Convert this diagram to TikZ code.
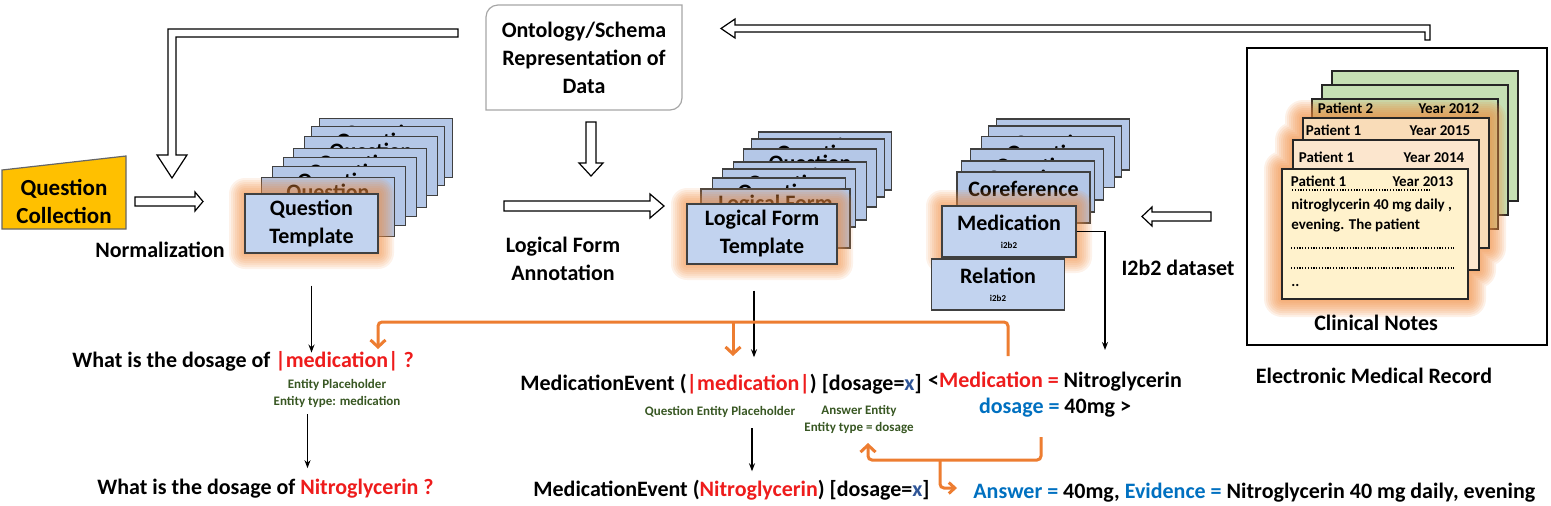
\documentclass[tikz,border=0pt]{standalone}
\usepackage{fontspec}
\setmainfont{Carlito}
\usetikzlibrary{arrows.meta,positioning,calc}

\definecolor{boxblue}{HTML}{B4C7E7}
\definecolor{frontblue}{HTML}{C2D3EF}
\definecolor{qyellow}{HTML}{FFC000}
\definecolor{glowc}{HTML}{F08A3C}
\definecolor{lineorange}{HTML}{ED7D31}
\definecolor{textred}{HTML}{EE1C1C}
\definecolor{textblue}{HTML}{0070C0}
\definecolor{xblue}{HTML}{2F5597}
\definecolor{notegreen}{HTML}{385723}
\definecolor{cardgreen}{HTML}{C5E0B4}
\definecolor{cardyellow}{HTML}{FFF2CC}
\definecolor{cardpeach}{HTML}{FCE6CE}
\definecolor{cardtan}{HTML}{F9DCB8}
\definecolor{ontogray}{HTML}{A6A6A6}

\newcommand{\itwob}{{\fontsize{4.5}{5}\selectfont i2b2}}
\newcommand{\glowrect}[4]{%
  \foreach \g in {1,...,8}{%
    \fill[glowc,opacity=.11,rounded corners=\g pt] ({#1-2*\g},{#2-2*\g}) rectangle ({#3+2*\g},{#4+2*\g});}}

\begin{document}
\begin{tikzpicture}[x=0.5pt, y=-0.5pt,
    txt/.style={font=\fontsize{11}{14}\selectfont\bfseries, align=center, inner sep=0pt},
    small/.style={font=\fontsize{6.5}{8.5}\selectfont\bfseries, text=notegreen, align=center, inner sep=0pt},
    tmpl/.style={draw=black!75, line width=0.6pt, fill=boxblue, minimum width=66.5pt, minimum height=29.5pt,
                 inner sep=0pt, align=center, font=\fontsize{11}{14}\selectfont\bfseries},
    front/.style={tmpl, fill=frontblue},
    card/.style={draw=black!85, line width=0.6pt, minimum width=93pt, minimum height=65pt, inner sep=0pt},
    cardtxt/.style={font=\fontsize{7.5}{10}\selectfont\bfseries, inner sep=0pt},
    hollow/.style={draw=black, line width=0.6pt, fill=white},
    blk/.style={-{Stealth[length=4pt,width=3pt]}, line width=0.7pt},
    org/.style={draw=lineorange, line width=1.5pt, rounded corners=2pt},
    orgtip/.style={-{Straight Barb[length=3.5pt,width=7.5pt]}}]

    \useasboundingbox (0,0) rectangle (1551,505);

    % question collection
    \draw[fill=qyellow, draw=black!60, line width=0.6pt] (2,170) -- (126,156) -- (126,229) -- (2,229) -- cycle;
    \node[txt, font=\fontsize{11.5}{14}\selectfont\bfseries] (qc) at (64,201) {Question\\Collection};
    \node[txt] (norm) at (160,250) {Normalization};
    \draw[hollow] (135,197) -- (195,197) -- (195,192) -- (203,201.5) -- (195,211) -- (195,206) -- (135,206) -- cycle;
    \draw[hollow] (458,29) -- (168,29) -- (168,155) -- (157,155) -- (172,178) -- (187,155) -- (176,155) -- (176,37) -- (458,37) -- cycle;

    % question templates
    \foreach \cx/\cy in {386/148,378/156,371/166,360/178,350/187,339/196,328/207}
        \node[tmpl] at (\cx,\cy) {Question\\Template};
    \glowrect{245}{194}{378}{253}
    \node[front] (qt) at (311.5,223.5) {Question\\Template};

    % ontology
    \node[txt] (onto) at (584,58) {Ontology/Schema\\Representation of\\Data};
    \draw[ontogray, line width=0.6pt] (486,110) -- (486,17) arc[start angle=180, end angle=270, radius=12]
        -- (682,5) -- (682,98) arc[start angle=0, end angle=90, radius=12] -- cycle;
    \draw[hollow] (586,122) -- (596,122) -- (596,163) -- (603,163) -- (591,176) -- (579,163) -- (586,163) -- cycle;
    \draw[hollow] (504,201) -- (650,201) -- (650,194) -- (664,206) -- (650,218) -- (650,211) -- (504,211) -- cycle;
    \node[txt] (lfa) at (563,259) {Logical Form\\Annotation};

    % logical form templates
    \foreach \cx/\cy in {825/161,818/168,810/178,800/191,789/198,779/207}
        \node[tmpl, minimum height=29pt] at (\cx,\cy) {Question\\Template};
    \node[tmpl, minimum width=74.5pt] at (775.5,218.5) {Logical Form\\Template};
    \glowrect{687}{204}{837}{264}
    \node[front, minimum width=75pt, minimum height=30pt] (lf) at (762,234) {Logical Form\\Template};

    % i2b2 stack
    \foreach \cx/\cy in {1063/144.5,1055/151.5,1048/162,1037/174.5,1028/186.5}
        \node[tmpl, minimum height=25.5pt] at (\cx,\cy) {Question\\[-5pt]\itwob};
    \node[tmpl, minimum height=25.5pt] (coref) at (1023.5,197.5) {Coreference\\[-5pt]\itwob};
    \glowrect{942}{206}{1076}{257}
    \node[front, minimum width=67pt, minimum height=25.5pt] (med) at (1009,231.5) {Medication\\[-5pt]\itwob};
    \node[front, minimum height=25.5pt] (rel) at (998,284.5) {Relation\\[-5pt]\itwob};
    \draw[hollow] (1211,212) -- (1152,212) -- (1152,207) -- (1142,216.5) -- (1152,226) -- (1152,221) -- (1211,221) -- cycle;
    \node[txt] (ids) at (1178,268) {I2b2 dataset};

    % electronic medical record
    \node[draw, line width=0.6pt, minimum width=150pt, minimum height=148.5pt] (emr) at (1397,196.5) {};
    \draw[hollow] (1430,40) -- (1430,25) -- (735,25) -- (735,19) -- (721,28.5) -- (735,38) -- (735,32) -- (1425,32) -- (1425,40) -- cycle;
    \node[card, fill=cardgreen] (n6) at (1425,136) {};
    \node[card, fill=cardgreen] (n5) at (1415,150) {};
    \node[card, fill=cardgreen] (n4) at (1405,164) {};
    \foreach \g in {1,...,9}
        \fill[glowc, opacity=.12, rounded corners=\g pt]
            (1282-2*\g,169-2*\g) rectangle (1468+2*\g,299+2*\g)
            (1293-2*\g,140-2*\g) rectangle (1478+2*\g,270+2*\g)
            (1303-2*\g,118-2*\g) rectangle (1488+2*\g,248+2*\g);
    \node[cardtxt, anchor=west] at ([xshift=3pt,yshift=-5pt]n4.north west) {Patient 2};
    \node[cardtxt, anchor=east] at ([xshift=-9.5pt,yshift=-5pt]n4.north east) {Year 2012};
    \node[card, fill=cardtan] (n3) at (1396,183) {};
    \node[cardtxt, anchor=west] at ([xshift=1.5pt,yshift=-6.5pt]n3.north west) {Patient 1};
    \node[cardtxt, anchor=east] at ([xshift=-9.5pt,yshift=-6.5pt]n3.north east) {Year 2015};
    \node[card, fill=cardpeach] (n2) at (1386,205) {};
    \node[cardtxt, anchor=west] at ([xshift=3pt,yshift=-9pt]n2.north west) {Patient 1};
    \node[cardtxt, anchor=east] at ([xshift=-7.5pt,yshift=-9pt]n2.north east) {Year 2014};
    \node[card, fill=cardyellow] (n1) at (1375,234) {};
    \node[cardtxt, anchor=west] at ([xshift=4.5pt,yshift=-6.5pt]n1.north west) {Patient 1};
    \node[cardtxt, anchor=east] at ([xshift=-7.5pt,yshift=-6.5pt]n1.north east) {Year 2013};
    \draw[line width=0.7pt, dash pattern=on 0.6pt off 0.8pt] (1292,190) -- (1430,190);
    \node[cardtxt, anchor=west] at (1291,205) {nitroglycerin 40 mg daily ,};
    \node[cardtxt, anchor=west] at (1291,225) {evening. The patient};
    \draw[line width=0.7pt, dash pattern=on 0.6pt off 0.8pt] (1291,248) -- (1454,248);
    \draw[line width=0.7pt, dash pattern=on 0.6pt off 0.8pt] (1291,268) -- (1454,268);
    \node[cardtxt, anchor=west] at (1291,285) {..};
    \node[txt] (cn) at (1376,323) {Clinical Notes};
    \node[txt] (emrl) at (1374,376) {Electronic Medical Record};

    % questions and logical forms
    \node[txt, anchor=base west] (q1) at (72,367) {What is the dosage of \textcolor{textred}{|medication| ?}};
    \node[small] (ent1) at (337,393.5) {Entity Placeholder\\Entity type: medication};
    \node[txt, anchor=base west] (q2) at (97,494) {What is the dosage of \textcolor{textred}{Nitroglycerin ?}};
    \node[txt, anchor=base west] (le1) at (520,390) {MedicationEvent (\textcolor{textred}{|medication|}) [dosage=\textcolor{xblue}{x}]};
    \node[small] (qep) at (720,412) {Question Entity Placeholder};
    \node[small] (ae) at (859,420) {Answer Entity\\Entity type = dosage};
    \node[txt, anchor=base west] (le2) at (533,496) {MedicationEvent (\textcolor{textred}{Nitroglycerin}) [dosage=\textcolor{xblue}{x}]};
    \node[txt, font=\fontsize{11}{13}\selectfont\bfseries] (medans) at (1055,395)
        {<\textcolor{textred}{Medication =} Nitroglycerin\\\textcolor{textblue}{dosage =} 40mg >};
    \node[txt, anchor=base west] (ans) at (973,498)
        {\textcolor{textblue}{Answer =} 40mg, \textcolor{textblue}{Evidence =} Nitroglycerin 40 mg daily, evening};

    % black arrows
    \draw[blk] ([yshift=-16pt]qt.south) -- ($(qt.south |- q1.north)+(0,2)$);
    \draw[blk] ($(ent1.south -| qt.south)+(-4,6)$) -- ($(q2.north -| qt.south)+(-4,-10)$);
    \draw[blk] ($(lf.south)+(-8,26)$) -- ($(lf.south |- le1.north)+(-8,-16)$);
    \draw[blk] ($(qep.south -| lf.south)+(-10,10)$) -- ($(le2.north -| lf.south)+(-10,-8)$);
    \draw[blk] (med.east) -| ($(medans.north)+(50,-22)$);

    % orange links
    \coordinate (os) at (1008,356);
    \coordinate (ob) at (378,322);
    \coordinate (ot) at (378,349);
    \coordinate (oc) at (733,322);
    \coordinate (om) at (733,356);
    \draw[org, orgtip] (os) |- (ob) -- (ot);
    \draw[org, orgtip] (oc) -- (om);
    \coordinate (ls) at (1041,437);
    \coordinate (lb) at (868,460);
    \coordinate (lt) at (868,443);
    \coordinate (lc) at (940,460);
    \coordinate (la) at (957,488);
    \draw[org, orgtip] (ls) |- (lb) -- (lt);
    \draw[org, -{Straight Barb[length=3pt,width=5.5pt]}] (lc) |- (la);
\end{tikzpicture}
\end{document}
